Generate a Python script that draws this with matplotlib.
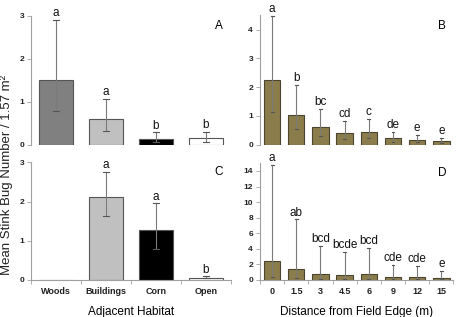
import matplotlib
matplotlib.use("Agg")
import matplotlib.pyplot as plt
import numpy as np

plt.rcParams['font.family'] = ['Liberation Sans', 'DejaVu Sans']

habitats = ["Woods", "Buildings", "Corn", "Open"]
habitat_colors = ["#808080", "#c0c0c0", "#000000", "#ffffff"]

a_vals = [1.50, 0.59, 0.13, 0.15]
a_hi = [2.91, 1.06, 0.29, 0.30]
a_lo = [0.78, 0.33, 0.07, 0.07]
a_letters = ["a", "a", "b", "b"]

c_vals = [0.0, 2.12, 1.27, 0.06]
c_hi = [0.0, 2.75, 1.95, 0.09]
c_lo = [0.0, 1.62, 0.80, 0.04]
c_letters = ["", "a", "a", "b"]

distances = ["0", "1.5", "3", "4.5", "6", "9", "12", "15"]

b_vals = [2.24, 1.03, 0.61, 0.42, 0.44, 0.22, 0.16, 0.12]
b_hi = [4.47, 2.08, 1.24, 0.83, 0.89, 0.45, 0.34, 0.23]
b_lo = [1.12, 0.53, 0.30, 0.20, 0.23, 0.10, 0.08, 0.06]
b_letters = ["a", "b", "bc", "cd", "c", "de", "e", "e"]

d_vals = [2.48, 1.37, 0.77, 0.64, 0.73, 0.39, 0.39, 0.30]
d_hi = [14.8, 7.8, 4.37, 3.6, 4.1, 1.93, 1.84, 1.2]
d_lo = [0.43, 0.20, 0.17, 0.13, 0.13, 0.10, 0.10, 0.08]
d_letters = ["a", "ab", "bcd", "bcde", "bcd", "cde", "cde", "e"]

W, H = 474, 317
fig = plt.figure(figsize=(W / 100, H / 100), dpi=100)
fig.patch.set_facecolor("white")

def ax_px(left, right, y0, ytop):
    return fig.add_axes([left / W, (H - y0) / H, (right - left) / W, (y0 - ytop) / H])

olive = "#8b7d4b"
olive_edge = "#4a4530"
spine_col = "#a0a0a0"

def draw(ax, vals, hi, lo, letters, colors, edge, ylim, yticks, panel, show_bottom, xlabels=None):
    x = np.arange(len(vals))
    ax.bar(x, vals, width=0.68, color=colors, edgecolor=edge, linewidth=0.8, zorder=2)
    for xi, v, h, l, t in zip(x, vals, hi, lo, letters):
        if h <= 0:
            continue
        ax.plot([xi, xi], [l, h], color="#7a7a7a", lw=0.8, zorder=3)
        ax.plot([xi - 0.06, xi + 0.06], [h, h], color="#555555", lw=0.8, zorder=3)
        ax.plot([xi - 0.06, xi + 0.06], [l, l], color="#555555", lw=0.8, zorder=3)
        ax.annotate(t, (xi, h), xytext=(0, 0.5), textcoords="offset points",
                    ha="center", va="bottom", fontsize=8.5, color="#111111")
    ax.set_xlim(-0.5, len(vals) - 0.5)
    ax.set_ylim(*ylim)
    ax.set_yticks(yticks)
    ax.set_yticklabels([str(t) for t in yticks], fontsize=6, fontweight="bold", color="#222222")
    for s in ["top", "right"]:
        ax.spines[s].set_visible(False)
    ax.spines["left"].set_color(spine_col)
    ax.spines["left"].set_linewidth(0.8)
    ax.tick_params(axis="y", length=3, width=0.6, color=spine_col, pad=2)
    if show_bottom:
        ax.spines["bottom"].set_color(spine_col)
        ax.spines["bottom"].set_linewidth(0.8)
        ax.set_xticks(x)
        ax.set_xticklabels(xlabels, fontsize=6.5, fontweight="bold", color="#222222")
        ax.set_xticks(np.arange(len(vals) + 1) - 0.5, minor=True)
        ax.tick_params(axis="x", which="major", length=0, pad=5)
        ax.tick_params(axis="x", which="minor", length=3, width=0.6, color=spine_col)
    else:
        ax.spines["bottom"].set_visible(False)
        ax.set_xticks([])
    ax.text(0.94, 0.92, panel, transform=ax.transAxes, ha="center", va="center", fontsize=8.5)

axA = ax_px(31, 231, 144.7, 15.7)
draw(axA, a_vals, a_hi, a_lo, a_letters, habitat_colors, "#555555", (0, 3), [0, 1, 2, 3], "A", False)

axB = ax_px(260, 453.4, 144.7, 15.3)
draw(axB, b_vals, b_hi, b_lo, b_letters, olive, olive_edge, (0, 4.5), [0, 1, 2, 3, 4], "B", False)

axC = ax_px(31, 231, 280, 162.3)
draw(axC, c_vals, c_hi, c_lo, c_letters, habitat_colors, "#555555", (0, 3), [0, 1, 2, 3], "C", True, habitats)
axC.set_xlabel("Adjacent Habitat", fontsize=8.5, labelpad=7.5)

axD = ax_px(260, 453.4, 280, 163.2)
draw(axD, d_vals, d_hi, d_lo, d_letters, olive, olive_edge, (0, 15), [0, 2, 4, 6, 8, 10, 12, 14], "D", True, distances)
axD.set_xlabel("Distance from Field Edge (m)", fontsize=8.5, labelpad=7.5)

fig.text(7 / W, 1 - 175 / H, "Mean Stink Bug Number / 1.57 m\u00b2", rotation=90,
         ha="center", va="center", fontsize=9.5, color="#222222")

fig.savefig("out.png", dpi=100, facecolor="white")
